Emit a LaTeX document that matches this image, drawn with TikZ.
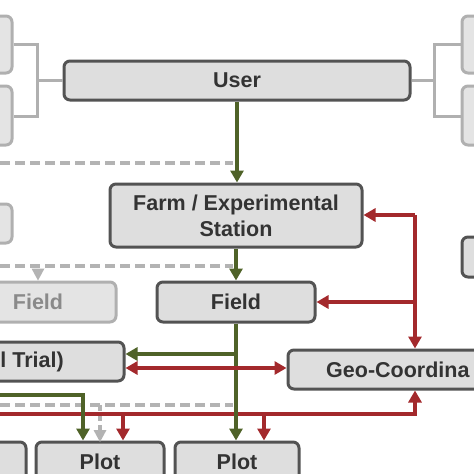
\documentclass[tikz,border=0pt]{standalone}
\usepackage{fontspec}
\setmainfont{Liberation Sans}
\usetikzlibrary{arrows.meta}
\definecolor{boxfill}{HTML}{DEDEDE}
\definecolor{boxline}{HTML}{535353}
\definecolor{lightline}{HTML}{B0B0B0}
\definecolor{lightfill}{HTML}{E4E4E4}
\definecolor{txt}{HTML}{333333}
\definecolor{lighttxt}{HTML}{8A8A8A}
\definecolor{grn}{HTML}{4F6228}
\definecolor{rd}{HTML}{A3292C}
\definecolor{dashgray}{HTML}{B3B3B3}
\tikzset{
  box/.style={draw=boxline, fill=boxfill, line width=3pt, rounded corners=6pt,
    text=txt, inner sep=0pt, font=\fontsize{21.5}{26}\selectfont\bfseries, align=center},
  lightbox/.style={draw=lightline, fill=lightfill, line width=3pt, rounded corners=6pt,
    text=lighttxt, inner sep=0pt, font=\fontsize{21.5}{26}\selectfont\bfseries},
  lbl/.style={text=txt, inner sep=0pt, font=\fontsize{21.5}{26}\selectfont\bfseries},
  tip/.style={-{Triangle[width=13pt,length=12pt]}},
  dtip/.style={{Triangle[width=13pt,length=12pt]}-{Triangle[width=13pt,length=12pt]}},
  gline/.style={draw=grn, line width=3.2pt},
  rline/.style={draw=rd, line width=3.2pt},
  bracket/.style={draw=lightline, line width=3pt},
  dline/.style={draw=dashgray, line width=3.2pt, dash pattern=on 10pt off 5pt},
}
\begin{document}
\begin{tikzpicture}[x=1pt,y=-1pt]
\useasboundingbox (0,0) rectangle (474,474);
% light side boxes
\node[lightbox, minimum width=40, minimum height=57] (lt1) at (-8,44.5) {};
\node[lightbox, minimum width=40, minimum height=59] (lt2) at (-8,115.5) {};
\node[lightbox, minimum width=40, minimum height=57] (rt1) at (482,44.5) {};
\node[lightbox, minimum width=40, minimum height=59] (rt2) at (482,115.5) {};
\node[lightbox, minimum width=40, minimum height=39] (lt3) at (-8,223.5) {};
% main boxes
\node[box, minimum width=346, minimum height=39] (user) at (237,80.5) {User};
\node[box, minimum width=252, minimum height=63] (farm) at (236,215.5) {Farm / Experimental\\Station};
\node[box, minimum width=50, minimum height=40] (rt3) at (487,257) {};
\node[lightbox, minimum width=156, minimum height=40] (lfield) at (38,302) {Field};
\node[box, minimum width=158, minimum height=40] (field) at (236,302) {Field};
\node[box, minimum width=224, minimum height=39] (trial) at (12,361.5) {};
\node[lbl, anchor=east] (trialtxt) at (64,362) {l Trial)};
\node[box, minimum width=240, minimum height=39] (geo) at (408,369.5) {};
\node[lbl, anchor=west] (geotxt) at (326,370) {Geo-Coordina};
\node[box, minimum width=46, minimum height=40] (plot0) at (3,462) {};
\node[box, minimum width=128, minimum height=40] (plot1) at (100,462) {Plot};
\node[box, minimum width=124, minimum height=40] (plot2) at (237,462) {Plot};
% coordinates
\coordinate (lb) at (37,80);
\coordinate (rb) at (434,80);
\coordinate (d1a) at (0,163);
\coordinate (d1b) at (233,163);
\coordinate (d2a) at (0,266);
\coordinate (d2b) at (233,266);
\coordinate (d3a) at (0,405);
\coordinate (d3b) at (233,405);
\coordinate (rtop) at (415,215);
\coordinate (gl) at (0,395);
\coordinate (rl) at (0,414);
% brackets
\draw[bracket] (lt1.east |- 0,44) -| (lb) |- (lt2.east |- 0,116);
\draw[bracket] (lb) -- (user.west |- lb);
\draw[bracket] (rt1.west |- 0,44) -| (rb) |- (rt2.west |- 0,116);
\draw[bracket] (rb) -- (user.east |- rb);
% dashed separators
\draw[dline] (d1a) -- (d1b);
\draw[dline] (d2a) -- (d2b);
\draw[dline] (d3a) -- (d3b);
\fill[dashgray] (lfield.north -| 38,0) ++(-6.5,-12) -- ++(13,0) -- ++(-6.5,12) -- cycle;
\draw[draw=dashgray, line width=3.2pt, dash pattern=on 6pt off 4pt] (100,405) -- (100,430);
\fill[dashgray] (93.5,430) -- (106.5,430) -- (100,442) -- cycle;
% red lines (back)
\draw[rline, tip] (rl) -| (geo.south -| rtop);
\draw[rline, tip] (123,414) -- (plot1.north -| 123,0);
\draw[rline, tip] (264,414) -- (plot2.north -| 264,0);
\draw[rline, tip] (rtop) -- (farm.east |- rtop);
\draw[rline, tip] (rtop) -- (geo.north -| rtop);
\draw[rline, tip] (415,302) -- (field.east |- 0,302);
% green lines
\draw[gline, tip] (user.south -| 237,0) -- (farm.north -| 237,0);
\draw[gline, tip] (farm.south -| 236,0) -- (field.north -| 236,0);
\draw[gline, tip] (field.south -| 236,0) -- (plot2.north -| 236,0);
\draw[gline, tip] (236,354) -- (trial.east |- 0,354);
\draw[gline, tip] (gl) -| (plot1.north -| 83,0);
% red double arrow
\draw[rline, dtip] (trial.east |- 0,368) -- (geo.west |- 0,368);
\end{tikzpicture}
\end{document}
